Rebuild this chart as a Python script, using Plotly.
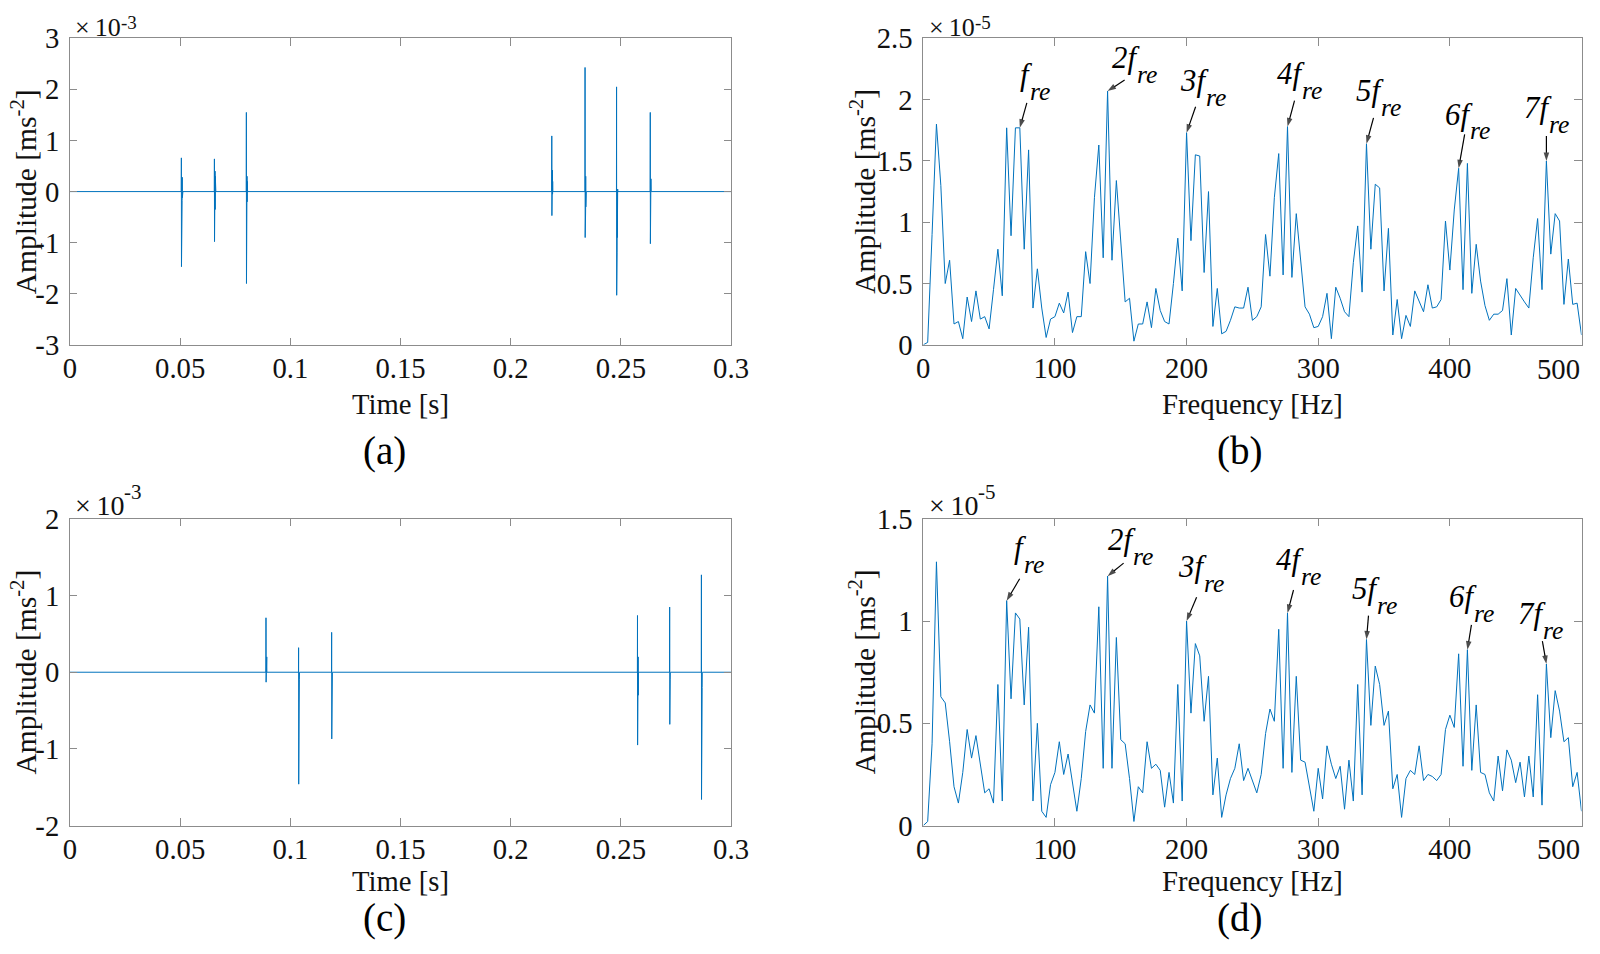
import plotly.graph_objects as go

# ---------------- data ----------------
# time-domain impulse bursts (amplitude in units of 1e-3 m/s^2)
burst_times_a = [0.0505, 0.0655, 0.0800, 0.2186, 0.2337, 0.2480, 0.2633]
burst_samples_a = [
    [0.66, -1.47, 0.46, -0.25, 0.56, -0.22, 0.35, -0.18, 0.28, -0.12, 0.20, -0.08, 0.12, -0.04],
    [0.64, -0.98, 0.56, -0.60, 0.50, -0.50, 0.40, -0.35, 0.30, -0.25, 0.20, -0.10, 0.10],
    [1.55, -1.80, 0.48, -0.32, 0.40, -0.25, 0.30, -0.20, 0.20, -0.10, 0.10],
    [1.09, -0.47, 0.40, -0.12, 0.38, -0.10, 0.42, -0.05, 0.20],
    [2.43, -0.90, 0.46, -0.45, 0.40, -0.40, 0.30, -0.30, 0.20, -0.15, 0.10],
    [2.05, -2.03, 0.07, -1.33, 0.05, -1.20, 0.00, -0.90, -0.60, -0.30, 0.05],
    [1.55, -1.02, 0.40, -0.05, 0.35, 0.00, 0.25, 0.05],
]
burst_times_c = [0.0889, 0.1037, 0.1187, 0.2575, 0.2721, 0.2865]
burst_samples_c = [
    [0.71, -0.13, 0.61, -0.07, 0.50, -0.05, 0.40, 0.20],
    [0.32, -1.46, 0.22, -0.19, 0.20, -0.15, 0.15, -0.10],
    [0.52, -0.87, 0.34, -0.08, 0.30, -0.05, 0.20],
    [0.74, -0.95, 0.30, -0.62, 0.25, -0.50, 0.20, -0.30],
    [0.85, -0.68, 0.16, -0.15, 0.12, -0.10],
    [1.27, -1.66, 0.83, -0.84, 0.60, -0.50, 0.30, -0.20],
]
sample_dt = 5e-5
t_end = 0.3

# envelope spectra (amplitude in units of 1e-5 m/s^2), bin spacing 10/3 Hz
freq_resolution = 10.0 / 3.0
amp_b = [0.00, 0.02, 0.90, 1.80, 1.30, 0.50, 0.69, 0.17, 0.19, 0.05,
         0.39, 0.19, 0.44, 0.21, 0.23, 0.13, 0.45, 0.78, 0.40, 1.77,
         0.89, 1.77, 1.77, 0.78, 1.59, 0.30, 0.62, 0.30, 0.06, 0.21,
         0.23, 0.34, 0.26, 0.43, 0.10, 0.23, 0.23, 0.76, 0.50, 1.20,
         1.63, 0.71, 2.07, 0.69, 1.34, 0.85, 0.35, 0.38, 0.03, 0.17,
         0.17, 0.35, 0.14, 0.46, 0.28, 0.19, 0.17, 0.50, 0.87, 0.44,
         1.73, 0.85, 1.55, 1.54, 0.59, 1.25, 0.15, 0.46, 0.09, 0.11,
         0.20, 0.31, 0.30, 0.30, 0.47, 0.20, 0.23, 0.31, 0.90, 0.56,
         1.20, 1.56, 0.57, 1.78, 0.55, 1.07, 0.68, 0.31, 0.25, 0.14,
         0.15, 0.23, 0.42, 0.05, 0.47, 0.38, 0.27, 0.23, 0.67, 0.97,
         0.43, 1.64, 0.78, 1.31, 1.28, 0.44, 0.95, 0.08, 0.37, 0.05,
         0.24, 0.15, 0.44, 0.35, 0.27, 0.49, 0.30, 0.31, 0.37, 1.01,
         0.61, 1.10, 1.44, 0.45, 1.48, 0.42, 0.82, 0.52, 0.32, 0.20,
         0.25, 0.25, 0.28, 0.54, 0.08, 0.46, 0.40, 0.35, 0.30, 0.71,
         1.03, 0.45, 1.50, 0.74, 1.07, 1.01, 0.33, 0.70, 0.33, 0.34,
         0.08]
amp_d = [0.00, 0.02, 0.40, 1.29, 0.63, 0.60, 0.41, 0.19, 0.11, 0.26,
         0.47, 0.33, 0.44, 0.29, 0.16, 0.18, 0.11, 0.69, 0.12, 1.10,
         0.62, 1.04, 1.01, 0.59, 0.97, 0.12, 0.50, 0.07, 0.04, 0.20,
         0.26, 0.41, 0.25, 0.35, 0.21, 0.07, 0.23, 0.46, 0.59, 0.55,
         1.07, 0.28, 1.22, 0.28, 0.92, 0.42, 0.40, 0.23, 0.02, 0.19,
         0.16, 0.41, 0.28, 0.30, 0.27, 0.09, 0.26, 0.11, 0.69, 0.12,
         1.00, 0.55, 0.89, 0.83, 0.51, 0.73, 0.15, 0.33, 0.04, 0.15,
         0.23, 0.28, 0.40, 0.22, 0.28, 0.22, 0.16, 0.25, 0.45, 0.57,
         0.51, 0.96, 0.28, 1.04, 0.26, 0.73, 0.32, 0.31, 0.18, 0.07,
         0.28, 0.13, 0.39, 0.30, 0.23, 0.29, 0.08, 0.32, 0.12, 0.69,
         0.15, 0.91, 0.49, 0.78, 0.69, 0.49, 0.56, 0.18, 0.25, 0.04,
         0.23, 0.27, 0.25, 0.39, 0.22, 0.25, 0.24, 0.22, 0.25, 0.47,
         0.54, 0.48, 0.84, 0.29, 0.86, 0.27, 0.59, 0.26, 0.25, 0.16,
         0.12, 0.34, 0.17, 0.37, 0.32, 0.21, 0.31, 0.14, 0.34, 0.14,
         0.64, 0.10, 0.79, 0.43, 0.66, 0.56, 0.41, 0.43, 0.19, 0.26,
         0.07]

# harmonic markers: order labels and spectrum bin index of each marked peak
harmonic_prefix = ["", "2", "3", "4", "5", "6", "7"]
harmonic_bins_b = [22, 42, 60, 83, 101, 122, 142]
harmonic_bins_d = [19, 42, 60, 83, 101, 124, 142]

time_ticks = [0, 0.05, 0.1, 0.15, 0.2, 0.25, 0.3]
time_ticktext = ["0", "0.05", "0.1", "0.15", "0.2", "0.25", "0.3"]
freq_ticks = [0, 100, 200, 300, 400]
freq_last_tick = "500"
ya_ticks = [-3, -2, -1, 0, 1, 2, 3]
yc_ticks = [-2, -1, 0, 1, 2]
yb_ticks = [0, 0.5, 1, 1.5, 2, 2.5]
yd_ticks = [0, 0.5, 1, 1.5]

# ---------------- styling / layout positions ----------------
W, H = 1600, 954
FONT = "Liberation Serif"
BLUE = "#0072BD"
GRAY = "#8c8c8c"
TXT = "#111111"

# measured placement of the page in the captured picture: picture = O + S * figure
SX, OX = 0.9816, 7.0
SY, OY = 0.969, 14.3
FS = 1.025  # font compensation


def fx(img_x):
    return (img_x - OX) / SX


def fy(img_y):
    return (img_y - OY) / SY


def px(x):
    return x / W


def py(y):
    return 1 - y / H


F_MAIN, F_SUB = 30 * FS, 25 * FS
F_TICK = 28 * FS
F_PANEL = 39

# pixel offsets (picture px) from the marked peak: label junction (x, main-baseline y), arrow tail (x, y)
lab_off_b = [(12, -41), (31, -22), (21, -40), (16, -41), (16, -41), (13, -42), (5, -41)]
arr_off_b = [(7, -25), (17, -11), (9, -26), (7, -26), (7, -26), (6, -34), (0, -25)]
lab_off_d = [(19, -41), (27, -25), (19, -42), (15, -41), (12, -39), (8, -41), (-1, -38)]
arr_off_d = [(13, -22), (16, -13), (10, -24), (6, -23), (2, -24), (4, -25), (-4, -23)]

# axes frames (figure px)
XL = (fx(69.8), fx(729.0))
XR = (fx(920.7), min(fx(1578.5), 1599.5))
YT = (fy(36.7), fy(344.0))
YB = (fy(518.5), fy(826.0))
TICK_ROW = 24.75  # tick-label centre below frame (figure px)


def build_signal(times, samples):
    tx, vy = [0.0], [0.0]
    for t0, s in zip(times, samples):
        tx.append(t0)
        vy.append(0.0)
        for i, v in enumerate(s):
            tx.append(t0 + (i + 1) * sample_dt)
            vy.append(v)
        tx.append(t0 + (len(s) + 1) * sample_dt)
        vy.append(0.0)
    tx.append(t_end)
    vy.append(0.0)
    return tx, vy


t_a, v_a = build_signal(burst_times_a, burst_samples_a)
t_c, v_c = build_signal(burst_times_c, burst_samples_c)
freqs_b = [k * freq_resolution for k in range(len(amp_b))]
freqs_d = [k * freq_resolution for k in range(len(amp_d))]

fig = go.Figure()
line = dict(color=BLUE, width=1)
fig.add_trace(go.Scatter(x=t_a, y=v_a, mode="lines", line=line, xaxis="x", yaxis="y", showlegend=False, hoverinfo="skip"))
fig.add_trace(go.Scatter(x=freqs_b, y=amp_b, mode="lines", line=line, xaxis="x2", yaxis="y2", showlegend=False, hoverinfo="skip"))
fig.add_trace(go.Scatter(x=t_c, y=v_c, mode="lines", line=line, xaxis="x3", yaxis="y3", showlegend=False, hoverinfo="skip"))
fig.add_trace(go.Scatter(x=freqs_d, y=amp_d, mode="lines", line=line, xaxis="x4", yaxis="y4", showlegend=False, hoverinfo="skip"))


def axis(dom_px, rng, tickvals, ticktext, anchor, title, is_x, standoff=10):
    if is_x:
        domain = [px(dom_px[0]), px(dom_px[1])]
    else:
        domain = [py(dom_px[1]), py(dom_px[0])]
    d = dict(
        domain=domain, range=rng, tickvals=tickvals, ticktext=ticktext, anchor=anchor,
        showline=True, linecolor=GRAY, linewidth=1, mirror="ticks",
        ticks="inside", ticklen=7.2, tickcolor=GRAY, tickwidth=1,
        showgrid=False, zeroline=False, fixedrange=True,
        tickfont=dict(family=FONT, size=F_TICK, color=TXT),
        ticklabelstandoff=(-2 if is_x else 4),
    )
    if title:
        d["title"] = dict(text=title, font=dict(family=FONT, size=28 * FS, color=TXT), standoff=standoff)
    return d


fig.update_layout(
    width=W, height=H, margin=dict(l=0, r=0, t=0, b=0),
    paper_bgcolor="white", plot_bgcolor="white",
    xaxis=axis(XL, [0, 0.3], time_ticks, time_ticktext, "y", "Time [s]", True),
    yaxis=axis(YT, [-3, 3], ya_ticks, [str(v) for v in ya_ticks], "x", None, False),
    xaxis2=axis(XR, [0, 500], freq_ticks, [str(v) for v in freq_ticks], "y2", "Frequency [Hz]", True),
    yaxis2=axis(YT, [0, 2.5], yb_ticks, ["0", "0.5", "1", "1.5", "2", "2.5"], "x2", None, False),
    xaxis3=axis(XL, [0, 0.3], time_ticks, time_ticktext, "y3", "Time [s]", True, standoff=6),
    yaxis3=axis(YB, [-2, 2], yc_ticks, [str(v) for v in yc_ticks], "x3", None, False),
    xaxis4=axis(XR, [0, 500], freq_ticks, [str(v) for v in freq_ticks], "y4", "Frequency [Hz]", True, standoff=6),
    yaxis4=axis(YB, [0, 1.5], yd_ticks, ["0", "0.5", "1", "1.5"], "x4", None, False),
)

ann = []
# last frequency tick label, kept fully inside the picture
for ybot in [YT[1], YB[1]]:
    ann.append(dict(xref="paper", yref="paper", x=px(1599.5), y=py(ybot + TICK_ROW), xanchor="right",
                    yanchor="middle", showarrow=False, text=freq_last_tick,
                    font=dict(family=FONT, size=F_TICK, color=TXT)))

# y-axis titles
for xc, yc in [(23.6, 190.4), (859.8, 190.4), (23.6, 672.0), (859.8, 672.0)]:
    ann.append(dict(xref="paper", yref="paper", x=px(fx(xc)), y=py(fy(yc)), xanchor="center", yanchor="middle",
                    textangle=-90, showarrow=False, text="Amplitude [ms<sup>-2</sup>]",
                    font=dict(family=FONT, size=29.5, color=TXT)))

# exponent labels ("x10" + raised exponent), figure px centres
for (xl, base_c, base_s, sup_c, sup_s, e) in [
    (fx(73), 12.2, 26, 6.9, 19, "-3"), (fx(924.5), 12.2, 26, 6.9, 19, "-5"),
    (fx(73), 506.0, 28, 492.9, 21, "-3"), (fx(924.5), 506.0, 28, 492.9, 21, "-5"),
]:
    ann.append(dict(xref="paper", yref="paper", x=px(xl), y=py(base_c), xanchor="left", yanchor="middle",
                    showarrow=False, text="\u00d7\u200910", font=dict(family=FONT, size=base_s, color=TXT)))
    ann.append(dict(xref="paper", yref="paper", x=px(xl + 1.78 * base_s), y=py(sup_c), xanchor="left",
                    yanchor="middle", showarrow=False, text=e, font=dict(family=FONT, size=sup_s, color=TXT)))

# panel labels
for xc, yc, lab in [(fx(383), fy(450), "(a)"), (fx(1236), fy(450), "(b)"),
                    (fx(383), 933.5, "(c)"), (fx(1236), 933.5, "(d)")]:
    ann.append(dict(xref="paper", yref="paper", x=px(xc), y=py(yc), xanchor="center", yanchor="middle",
                    showarrow=False, text=lab, font=dict(family=FONT, size=F_PANEL, color="black")))

# harmonic labels (text) and arrows (line + arrowhead marker)
ppx = (XR[1] - XR[0]) / 500.0
for xr_, yr_, freqs, amps, bins, loff, aoff, ymax, ydom in [
    ("x2", "y2", freqs_b, amp_b, harmonic_bins_b, lab_off_b, arr_off_b, 2.5, YT),
    ("x4", "y4", freqs_d, amp_d, harmonic_bins_d, lab_off_d, arr_off_d, 1.5, YB),
]:
    ppy = (ydom[1] - ydom[0]) / ymax
    for pre, k, (jx, by), (tx, ty) in zip(harmonic_prefix, bins, loff, aoff):
        fxp, fyp = freqs[k], amps[k]
        jxf, byf = jx / SX, by / SY
        txf, tyf = tx / SX, ty / SY
        ann.append(dict(xref=xr_, yref=yr_, x=fxp, y=fyp, xshift=jxf + 3, yshift=-(byf - 0.3375 * F_MAIN),
                        showarrow=False, xanchor="right", yanchor="middle",
                        text="<i>" + pre + "f</i>", font=dict(family=FONT, size=F_MAIN, color="black")))
        ann.append(dict(xref=xr_, yref=yr_, x=fxp, y=fyp, xshift=jxf - 4, yshift=-(byf + 14 / SY - 0.3375 * F_SUB),
                        showarrow=False, xanchor="left", yanchor="middle",
                        text="<i>re</i>", font=dict(family=FONT, size=F_SUB, color="black")))
        fig.add_trace(go.Scatter(
            x=[fxp + txf / ppx, fxp], y=[fyp - tyf / ppy, fyp], mode="lines+markers",
            line=dict(color="black", width=1.2),
            marker=dict(symbol="arrow", size=[0, 9], angleref="previous", color="black", line=dict(width=0)),
            xaxis=xr_, yaxis=yr_, showlegend=False, hoverinfo="skip"))

fig.update_layout(annotations=ann)
fig.write_html("out.html")
